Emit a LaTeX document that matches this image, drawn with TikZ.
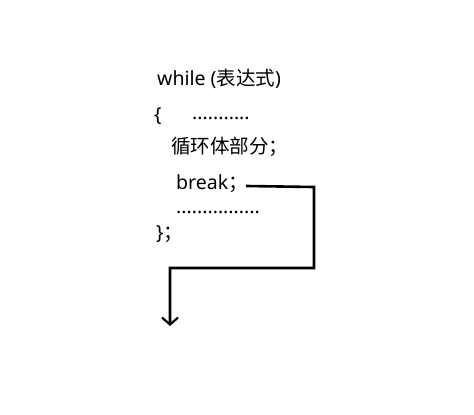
\documentclass[tikz,border=0pt]{standalone}
\usepackage{fontspec}
\setmainfont{Noto Sans}
\newfontfamily\cjk{Noto Sans CJK SC}
\usetikzlibrary{arrows.meta}
\begin{document}
\begin{tikzpicture}[x=1pt,y=-1pt,
  code/.style={anchor=west,inner sep=0pt,font=\fontsize{19.5}{23}\selectfont},
  flow/.style={line width=2.6pt,-{Straight Barb[length=7pt,width=16pt,line width=2.2pt]}}]
\useasboundingbox (0,0) rectangle (474,415);
\node[code] (w) at (157,79) {while ({\cjk 表达式})};
\node[code] (lb) at (154,116) {\{};
\node[code] (d1) at (192,118) {...........};
\node[code] (body) at (171,147) {\cjk 循环体部分；};
\node[code] (brk) at (176,184) {break{\cjk ；}};
\node[code] (d2) at (176,212) {................};
\node[code] (rb) at (156,234) {\}{\cjk ；}};
\coordinate (c0) at (246,186);
\coordinate (c1) at (314,187);
\coordinate (c2) at (314,268);
\coordinate (c3) at (170,268);
\coordinate (end) at (170,326);
\draw[flow] (c0) -- (c1) -- (c2) -- (c3) -- (end);
\end{tikzpicture}
\end{document}
